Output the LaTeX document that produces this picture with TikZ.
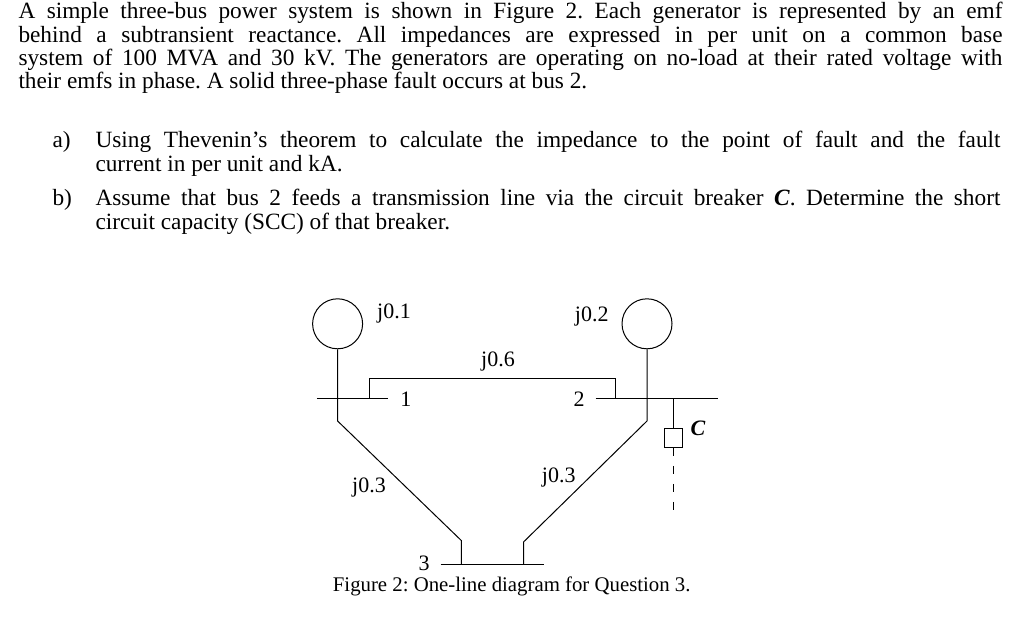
\documentclass[tikz,border=0pt]{standalone}
\usepackage{fontspec}
\setmainfont{Liberation Serif}
\begin{document}
\frenchspacing
\begin{tikzpicture}[x=1pt,y=-1pt,line width=1pt,
  lbl/.style={inner sep=0pt,font=\fontsize{22}{24}\selectfont},
  para/.style={inner sep=0pt,anchor=north west,font=\fontsize{23.3}{23.3}\selectfont}]
\useasboundingbox (0,0) rectangle (1024,632);
\node[para] (p) at (18,2) {\parbox{984pt}{A simple three-bus power system is shown in Figure 2. Each generator is represented by an emf\linebreak behind a subtransient reactance. All impedances are expressed in per unit on a common base\linebreak system of 100 MVA and 30 kV. The generators are operating on no-load at their rated voltage with\linebreak their emfs in phase. A solid three-phase fault occurs at bus 2.}};
\node[para] (a) at (52,131) {a)};
\node[para] (at) at (95,131) {\parbox{905pt}{Using Thevenin's theorem to calculate the impedance to the point of fault and the fault\linebreak current in per unit and kA.}};
\node[para] (b) at (52,189) {b)};
\node[para] (bt) at (95,189) {\parbox{905pt}{Assume that bus 2 feeds a transmission line via the circuit breaker \textbf{\textit{C}}. Determine the short\linebreak circuit capacity (SCC) of that breaker.}};
% generators
\node[circle,draw,minimum size=50pt,inner sep=0pt] (g1) at (337.6,323.8) {};
\node[circle,draw,minimum size=50pt,inner sep=0pt] (g2) at (647,323.8) {};
% buses
\coordinate (b1l) at (316.8,398.7); \coordinate (b1r) at (388,398.7);
\coordinate (b2l) at (595.7,398.7); \coordinate (b2r) at (718.3,398.7);
\coordinate (b3l) at (440.5,564); \coordinate (b3r) at (543.6,564);
\draw (b1l) -- (b1r);
\draw (b2l) -- (b2r);
\draw (b3l) -- (b3r);
% generator connections and lines
\coordinate (k1) at (337.6,421); \coordinate (k2) at (647,421);
\coordinate (k3l) at (461.3,540.5); \coordinate (k3r) at (523.5,542);
\coordinate (t3l) at (461.3,564); \coordinate (t3r) at (523.5,564);
\draw (g1.south) -- (k1) -- (k3l) -- (t3l);
\draw (g2.south) -- (k2) -- (k3r) -- (t3r);
\coordinate (u1) at (369,398.7); \coordinate (u1t) at (369,378.2);
\coordinate (u2) at (615.9,398.7); \coordinate (u2t) at (615.9,378.2);
\draw (u1) -- (u1t) -- (u2t) -- (u2);
% breaker
\coordinate (cb) at (673,398.7);
\node[draw,minimum width=18pt,minimum height=19pt,inner sep=0pt,line width=0.8pt] (brk) at (673,438) {};
\coordinate (cd) at (673,512);
\draw (cb) -- (brk.north);
\draw[dashed,dash pattern=on 8pt off 10pt] (brk.south) -- (cd);
\node[lbl,font=\fontsize{22}{24}\selectfont\bfseries\itshape] (cl) at (698,428) {C};
% labels
\node[lbl] (l1) at (394,313.7) {j0.1};
\node[lbl] (l2) at (591.7,317) {j0.2};
\node[lbl] (l6) at (498,362) {j0.6};
\node[lbl] (l3a) at (369,488) {j0.3};
\node[lbl] (l3b) at (558.7,478) {j0.3};
\node[lbl] (n1) at (405.8,399) {1};
\node[lbl] (n2) at (579,399) {2};
\node[lbl] (n3) at (424,563) {3};
\node[lbl,font=\fontsize{20.8}{22}\selectfont] (cap) at (511.7,586) {Figure 2: One-line diagram for Question 3.};
\end{tikzpicture}
\end{document}
